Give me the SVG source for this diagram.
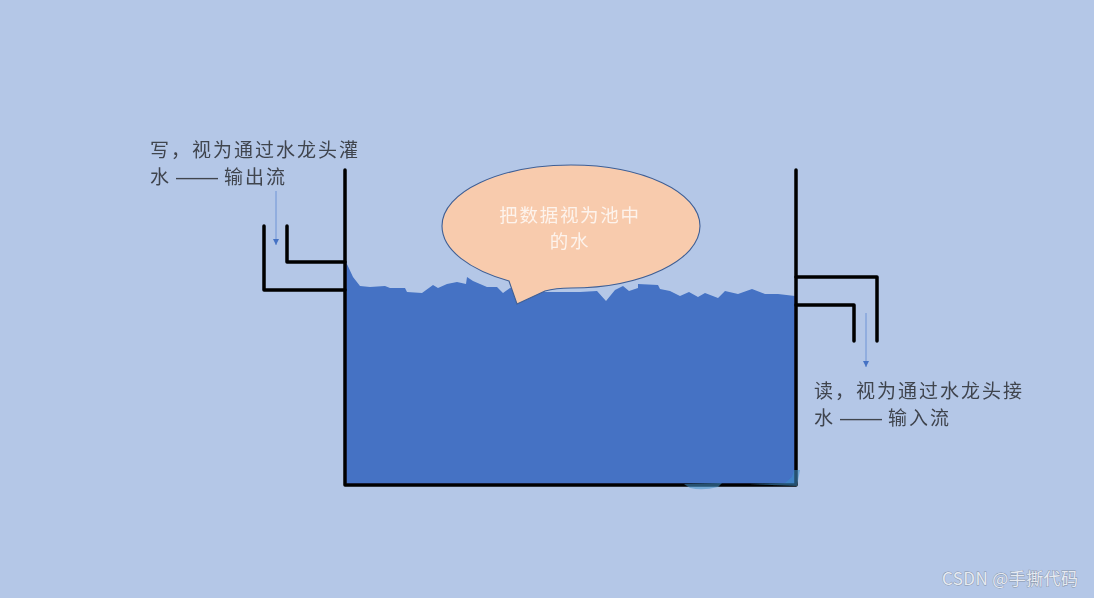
<svg xmlns="http://www.w3.org/2000/svg" width="1094" height="598" viewBox="0 0 1094 598">
<style>
.l{fill:none;stroke:#050505;stroke-width:3.5;stroke-linejoin:round;stroke-linecap:round}
.a{fill:none;stroke:#6f94d6;stroke-width:1}
.t{font-family:"Noto Sans CJK SC","Liberation Sans",sans-serif;font-size:19px;letter-spacing:2px;fill:#3f444e}
.d{font-family:"Liberation Sans",sans-serif;font-size:21px;letter-spacing:0}
.b{font-family:"Noto Sans CJK SC","Liberation Sans",sans-serif;font-size:18.5px;letter-spacing:1.7px;fill:#fdf3ec;text-anchor:middle}
.w{font-family:"Noto Sans CJK SC","Liberation Sans",sans-serif;font-size:17px;letter-spacing:.4px;fill:#e6eaf1;stroke:#8492a8;stroke-width:.8;paint-order:stroke}
</style>
<defs>
<filter id="s" x="-2%" y="-2%" width="104%" height="104%"><feGaussianBlur stdDeviation="0.55"/></filter>
<marker id="m" markerWidth="8" markerHeight="8" refX="6" refY="3" orient="auto" markerUnits="userSpaceOnUse"><path d="M0 0L6 3L0 6Z" fill="#4472c4"/></marker>
</defs>
<rect width="1094" height="598" fill="#b4c7e7"/>
<g filter="url(#s)">
<g id="water">
<path d="M346 262L353 277L360 286L370 287L385 286L390 288L405 288L407 292L422 293L433 285L438 288L447 284L457 282L466 284L467 277L473 281L487 287L497 287L503 293L510 288L540 292L580 292L597 291L606 301L615 290L623 286L629 291L638 288L638 284L658 285L660 289L670 291L680 296L689 292L698 297L705 293L718 298L725 291L738 294L752 289L765 294L778 294L795 296L796 485L345 485Z" fill="#4472c4"/>
</g>
<g id="tank"><path class="l" d="M345 170V485H796V170"/></g>
<path d="M684 484L722 483L718 487Q703 491 690 488ZM750 484L785 483L792 477L794 470L800 470L797 486Z" fill="#3f8fc8" opacity=".55"/>
<g id="inlet-pipe"><path class="l" d="M264 226V290H345M287 226V262H345"/></g>
<g id="outlet-pipe"><path class="l" d="M796 277H877V341M796 305H854V341"/></g>
<g id="connectors">
<path class="a" d="M276 191V245" marker-end="url(#m)"/>
<path class="a" d="M866 313V367" marker-end="url(#m)"/>
</g>
<g id="write-label">
<text class="t" x="150" y="157">写&#xFF0C;视为通过水龙头灌</text>
<text class="t" x="150" y="184">水<tspan class="d" x="176">——</tspan><tspan x="224">输出流</tspan></text>
</g>
<g id="read-label">
<text class="t" x="814" y="398">读&#xFF0C;视为通过水龙头接</text>
<text class="t" x="814" y="425">水<tspan class="d" x="840">——</tspan><tspan x="888">输入流</tspan></text>
</g>
<g id="bubble">
<path d="M509 281C470 270 442 250 442 226C442 192 500 165 571 165C642 165 700 192 700 226C700 260 642 288 571 288C560 288 552 289 545 291L517 304Z" fill="#f8cbad" stroke="#3f5f95" stroke-width="1.1"/>
<text class="b" x="570" y="222">把数据视为池中</text>
<text class="b" x="570" y="248">的水</text>
</g>
</g>
<g id="watermark"><text class="w" x="942" y="585">CSDN @手撕代码</text></g>
</svg>
